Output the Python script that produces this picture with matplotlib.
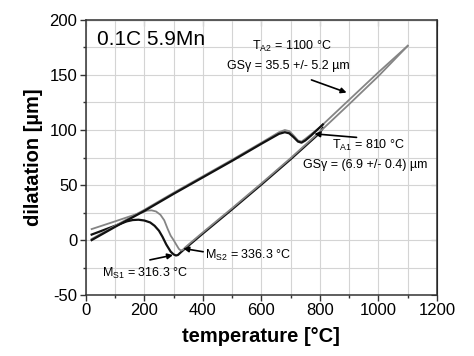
import numpy as np
import matplotlib
matplotlib.use('Agg')
import matplotlib.pyplot as plt
from matplotlib.ticker import MultipleLocator

plt.rcParams['font.family'] = ['Liberation Sans', 'DejaVu Sans']
plt.rcParams['mathtext.default'] = 'regular'
plt.rcParams['axes.unicode_minus'] = False

# heating / cooling curves (temperature in °C, dilatation in µm)
black_heat_T = [20, 100, 200, 300, 400, 500, 600, 660, 680, 695, 710, 725, 737, 750, 770, 790, 810]
black_heat_d = [0, 12, 26.5, 42, 57, 72, 87.5, 96.5, 98, 97, 93.5, 89.5, 88.5, 90.5, 95, 100, 105]

black_cool_T = [810, 800, 700, 600, 500, 400, 340, 325, 315, 308, 300, 290, 275, 262, 250, 235, 220, 200, 180, 160, 140, 100, 60, 20]
black_cool_d = [102, 97.5, 73.5, 50.5, 28, 6, -7.5, -11, -13.5, -14, -13, -10.5, -4, 3, 8.5, 13, 16, 17.8, 18.5, 18.2, 17, 13, 9, 5]

gray_heat_T = [20, 100, 200, 300, 400, 500, 600, 660, 680, 695, 710, 725, 737, 750, 800, 900, 1000, 1100]
gray_heat_d = [1, 13, 27.5, 43, 58, 73, 88.5, 98, 100, 99, 95, 90.5, 89.5, 92, 102.5, 127.5, 152.5, 176.5]

gray_cool_T = [1100, 1000, 900, 800, 700, 600, 500, 400, 340, 333, 325, 318, 310, 300, 290, 280, 268, 255, 240, 225, 210, 150, 100, 20]
gray_cool_d = [176.5, 149, 123.5, 98.5, 74.5, 51.5, 29, 7, -6.5, -8.5, -9.5, -8, -4.5, 0, 4, 10, 18, 23, 26, 27, 26.8, 21.5, 17, 10]

fig = plt.figure(figsize=(4.74, 3.56), dpi=100)
ax = fig.add_axes([0.181, 0.171, 0.741, 0.773])

ax.plot(black_cool_T, black_cool_d, color='#111111', lw=1.6)
ax.plot(gray_cool_T, gray_cool_d, color='#858585', lw=1.3)
ax.plot(gray_heat_T, gray_heat_d, color='#858585', lw=1.3)
ax.plot(black_heat_T, black_heat_d, color='#111111', lw=1.6)

ax.set_xlim(0, 1200)
ax.set_ylim(-50, 200)
ax.xaxis.set_major_locator(MultipleLocator(200))
ax.xaxis.set_minor_locator(MultipleLocator(100))
ax.yaxis.set_major_locator(MultipleLocator(50))
ax.yaxis.set_minor_locator(MultipleLocator(25))
ax.grid(which='both', color='#d4d4d4', lw=0.8)
ax.set_axisbelow(True)
ax.tick_params(which='both', direction='out', labelsize=12, width=1, color='#333333', pad=2)
ax.tick_params(which='major', length=4)
ax.tick_params(which='minor', length=2.5)
for s in ax.spines.values():
    s.set_color('#333333')
    s.set_linewidth(1.1)

# inward ticks on top and right
top = ax.secondary_xaxis('top')
top.xaxis.set_major_locator(MultipleLocator(200))
top.xaxis.set_minor_locator(MultipleLocator(100))
top.tick_params(which='both', direction='in', labeltop=False, color='#333333')
top.tick_params(which='major', length=4)
top.tick_params(which='minor', length=2.5)
right = ax.secondary_yaxis('right')
right.yaxis.set_major_locator(MultipleLocator(50))
right.yaxis.set_minor_locator(MultipleLocator(25))
right.tick_params(which='both', direction='in', labelright=False, color='#333333')
right.tick_params(which='major', length=4)
right.tick_params(which='minor', length=2.5)

ax.set_xlabel('temperature [°C]', fontsize=14.5, fontweight='bold', labelpad=6)
ax.set_ylabel('dilatation [µm]', fontsize=14.5, fontweight='bold', labelpad=5)

ax.text(38, 182, '0.1C 5.9Mn', fontsize=15, ha='left', va='center')
ax.text(703, 176, 'T$_{A2}$ = 1100 °C', fontsize=9, ha='center', va='center')
ax.text(693, 158.5, 'GSγ = 35.5 +/- 5.2 µm', fontsize=9, ha='center', va='center')
ax.text(967, 85.7, 'T$_{A1}$ = 810 °C', fontsize=9, ha='center', va='center')
ax.text(956, 68, 'GSγ = (6.9 +/- 0.4) µm', fontsize=9, ha='center', va='center')
ax.text(556, -13.6, 'M$_{S2}$ = 336.3 °C', fontsize=9, ha='center', va='center')
ax.text(204, -30.3, 'M$_{S1}$ = 316.3 °C', fontsize=9, ha='center', va='center')

arrow = dict(arrowstyle='-|>', color='k', lw=1.2, mutation_scale=8, shrinkA=0, shrinkB=0)
ax.annotate('', xy=(891, 134), xytext=(771, 145.5), arrowprops=arrow)
ax.annotate('', xy=(781, 96.5), xytext=(925, 93.3), arrowprops=arrow)
ax.annotate('', xy=(333, -7.6), xytext=(401, -10.6), arrowprops=arrow)
ax.annotate('', xy=(298, -13.6), xytext=(219, -18), arrowprops=arrow)

fig.savefig('out.png', dpi=100)
